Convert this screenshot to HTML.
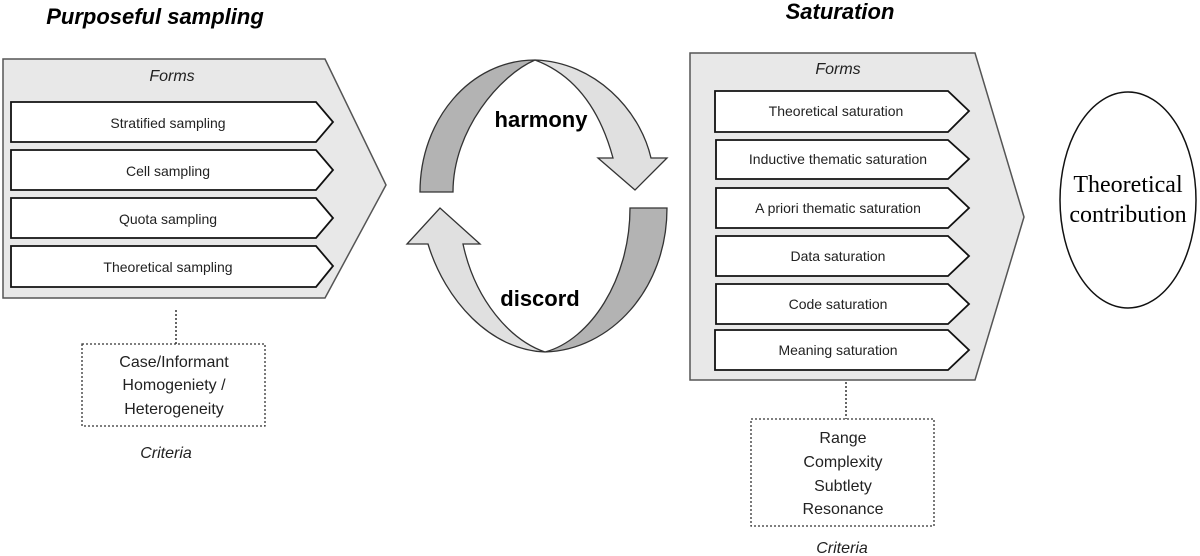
<!DOCTYPE html>
<html><head><meta charset="utf-8"><style>
html,body{margin:0;padding:0;background:#fff;}
svg{display:block;}
text{font-family:"Liberation Sans",sans-serif;}
</style></head><body>
<svg width="1200" height="556" viewBox="0 0 1200 556" xmlns="http://www.w3.org/2000/svg">
<!-- titles -->
<text x="155" y="24" font-size="22" font-weight="bold" font-style="italic" text-anchor="middle">Purposeful sampling</text>
<text x="840" y="19" font-size="22" font-weight="bold" font-style="italic" text-anchor="middle">Saturation</text>

<!-- left container -->
<polygon points="3,59 325,59 386,185 325,298 3,298" fill="#e8e8e8" stroke="#555" stroke-width="1.5"/>
<text x="172" y="81" font-size="16" font-style="italic" text-anchor="middle" fill="#222">Forms</text>
<g fill="#fff" stroke="#111" stroke-width="1.8">
<polygon points="11,102 316,102 333,122 316,142 11,142"/>
<polygon points="11,150 316,150 333,170 316,190 11,190"/>
<polygon points="11,198 316,198 333,218 316,238 11,238"/>
<polygon points="11,246 316,246 333,266 316,287 11,287"/>
</g>
<g font-size="14" text-anchor="middle" fill="#222">
<text x="168" y="128">Stratified sampling</text>
<text x="168" y="176">Cell sampling</text>
<text x="168" y="224">Quota sampling</text>
<text x="168" y="272">Theoretical sampling</text>
</g>
<line x1="176" y1="310" x2="176" y2="344" stroke="#333" stroke-width="1.5" stroke-dasharray="2,2"/>
<rect x="82" y="344" width="183" height="82" fill="#fff" stroke="#333" stroke-width="1.3" stroke-dasharray="2,2"/>
<g font-size="16" text-anchor="middle" fill="#222">
<text x="174" y="367">Case/Informant</text>
<text x="174" y="390">Homogeniety /</text>
<text x="174" y="414">Heterogeneity</text>
</g>
<text x="166" y="458" font-size="16" font-style="italic" text-anchor="middle" fill="#222">Criteria</text>

<!-- cycle -->
<g stroke="#333" stroke-width="1.3">
<path d="M420,192 C420,120 470,60 535,60 C500,75 453,130 453,192 Z" fill="#b3b3b3"/>
<path d="M535,60 C595,62 640,110 651,158 L667,158 L635,190 L598,158 L613,158 C600,110 575,75 535,60 Z" fill="#e0e0e0"/>
<path d="M667,208 L630,208 C630,280 590,340 545,352 C610,350 667,290 667,208 Z" fill="#b3b3b3"/>
<path d="M545,352 C490,350 445,300 428,244 L407,244 L440,208 L480,244 L463,244 C475,300 510,340 545,352 Z" fill="#e0e0e0"/>
</g>
<text x="541" y="127" font-size="22" font-weight="bold" text-anchor="middle">harmony</text>
<text x="540" y="306" font-size="22" font-weight="bold" text-anchor="middle">discord</text>

<!-- right container -->
<polygon points="690,53 975,53 1024,217 975,380 690,380" fill="#e8e8e8" stroke="#555" stroke-width="1.5"/>
<text x="838" y="74" font-size="16" font-style="italic" text-anchor="middle" fill="#222">Forms</text>
<g fill="#fff" stroke="#111" stroke-width="1.8">
<polygon points="715,91 948,91 969,111 948,132 715,132"/>
<polygon points="716,140 948,140 969,159 948,179 716,179"/>
<polygon points="716,188 948,188 969,208 948,228 716,228"/>
<polygon points="716,236 948,236 969,256 948,276 716,276"/>
<polygon points="716,284 948,284 969,304 948,324 716,324"/>
<polygon points="715,330 948,330 969,350 948,370 715,370"/>
</g>
<g font-size="14" text-anchor="middle" fill="#222">
<text x="836" y="116">Theoretical saturation</text>
<text x="838" y="164">Inductive thematic saturation</text>
<text x="838" y="213">A priori thematic saturation</text>
<text x="838" y="261">Data saturation</text>
<text x="838" y="309">Code saturation</text>
<text x="838" y="355">Meaning saturation</text>
</g>
<ellipse cx="1128" cy="200" rx="68" ry="108" fill="#fff" stroke="#111" stroke-width="1.5"/>
<text x="1128" y="192" font-size="24" font-family="Liberation Serif,serif" text-anchor="middle" style="font-family:'Liberation Serif',serif">Theoretical</text>
<text x="1128" y="222" font-size="24" text-anchor="middle" style="font-family:'Liberation Serif',serif">contribution</text>

<line x1="846" y1="382" x2="846" y2="419" stroke="#333" stroke-width="1.5" stroke-dasharray="2,2"/>
<rect x="751" y="419" width="183" height="107" fill="#fff" stroke="#333" stroke-width="1.3" stroke-dasharray="2,2"/>
<g font-size="16" text-anchor="middle" fill="#222">
<text x="843" y="443">Range</text>
<text x="843" y="467">Complexity</text>
<text x="843" y="491">Subtlety</text>
<text x="843" y="514">Resonance</text>
</g>
<text x="842" y="553" font-size="16" font-style="italic" text-anchor="middle" fill="#222">Criteria</text>
</svg>
</body></html>
